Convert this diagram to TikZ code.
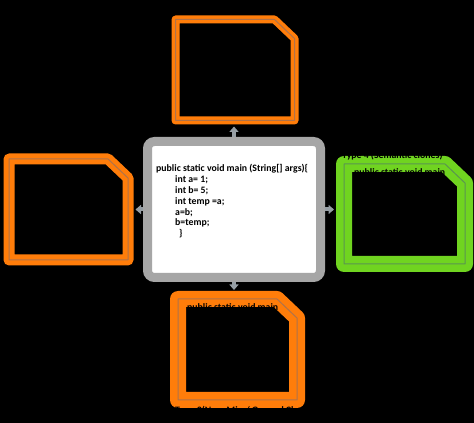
\documentclass[tikz,border=0pt]{standalone}
\usepackage{fontspec}
\setmainfont{Carlito}
\usetikzlibrary{arrows.meta}

\definecolor{cloneorange}{RGB}{255,125,10}
\definecolor{orangeline}{RGB}{175,115,75}
\definecolor{clonegreen}{RGB}{112,212,32}
\definecolor{greenline}{RGB}{90,150,80}
\definecolor{framegray}{RGB}{166,166,166}
\definecolor{linkgray}{RGB}{150,158,164}

% chamfered outline round a named box
\newcommand{\cloneframe}[2]{%
  \draw[clonedraw, #2] (#1.south west) -- (#1.north west)
    -- ([xshift=-20pt]#1.north east) -- ([yshift=-19pt]#1.north east)
    -- (#1.south east) -- cycle;}

\tikzset{
  mainbox/.style={draw=framegray, line width=9pt, fill=white, rounded corners=7pt,
    minimum width=173pt, minimum height=136pt, inner sep=0pt, outer sep=4.5pt},
  clonebox/.style={rectangle, minimum width=119pt, minimum height=101pt,
    inner sep=0pt, outer sep=0pt},
  clonedraw/.style={draw=cloneorange, double=orangeline, double distance=1pt,
    line join=round},
  link/.style={draw=linkgray, line width=4pt,
    -{Triangle[width=9pt,length=5.5pt]}},
  codetext/.style={font=\bfseries\fontsize{9.8}{10.8}\selectfont, text=black,
    align=left, inner sep=0pt},
  typetext/.style={font=\bfseries\fontsize{9.8}{11}\selectfont, text=black, inner sep=0pt}
}

\begin{document}
\begin{tikzpicture}[x=1pt,y=1pt]
  \fill[black] (0,0) rectangle (474,423);
  \useasboundingbox (0,0) rectangle (474,423);

  % the code in the middle
  \node[mainbox] (main) at (234,213.5) {};
  \node[codetext, anchor=north west] (code) at (156,258.5)
    {public static void main (String[] args)\{\\
     \hspace*{19pt}int a= 1;\\
     \hspace*{19pt}int b= 5;\\
     \hspace*{19pt}int temp =a;\\
     \hspace*{19pt}a=b;\\
     \hspace*{19pt}b=temp;\\
     \hspace*{23pt}\}};

  % clone types around it
  \node[clonebox] (type1) at (235,353) {};
  \node[clonebox] (type2) at (68.5,213.5) {};
  \node[clonebox, minimum width=121pt, minimum height=100pt] (type4) at (404.5,209) {};
  \node[clonebox] (type3) at (237.5,73.5) {};
  \cloneframe{type1}{line width=3.5pt}
  \cloneframe{type2}{line width=5pt}
  \cloneframe{type4}{line width=7.5pt, draw=clonegreen, double=greenline}
  \cloneframe{type3}{line width=7.5pt}

  \node[typetext, anchor=base west] (type4title) at (342,264) {Type 4 (Semantic clones)};
  \node[codetext, anchor=base west] (type4code) at (354,247) {public static void main};
  \node[codetext, anchor=base west] (type3code) at (187,112) {public static void main};
  \node[typetext, anchor=base west] (type3title) at (175,9) {Type 3(Near Miss/ Gapped Clones)};

  \draw[link, shorten >=6pt] (main.north) -- (main.north |- type1.south);
  \draw[link, shorten >=7.5pt] (main.west) -- (main.west -| type2.east);
  \draw[link, shorten >=10pt] (main.east) -- (main.east -| type4.west);
  \draw[link, shorten >=9pt] (main.south) -- (main.south |- type3.north);
\end{tikzpicture}
\end{document}
